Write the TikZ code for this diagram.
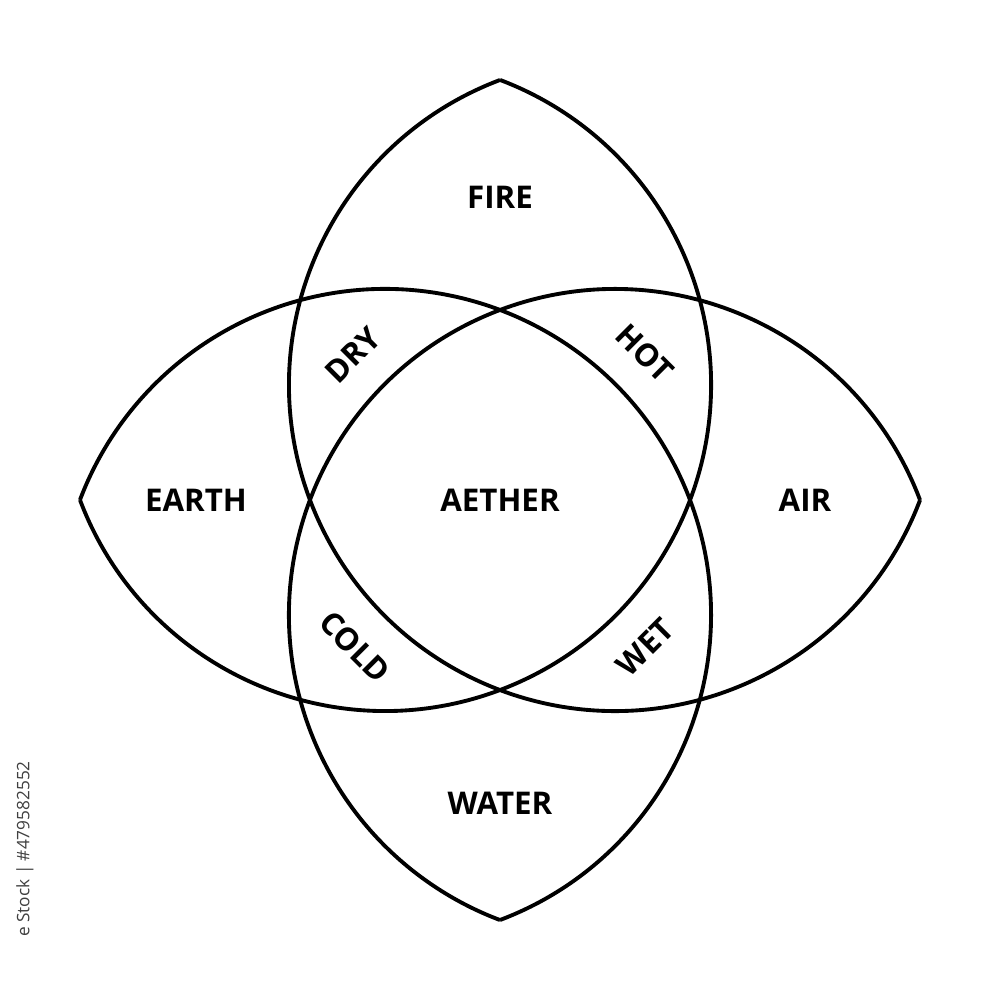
\documentclass[tikz,border=0pt]{standalone}
\usepackage{fontspec}
\setmainfont{Open Sans}
\begin{document}
\begin{tikzpicture}
\tikzset{
  ring/.style={draw=black, line width=1.1pt},
  lbl/.style={font=\fontsize{8.9}{10}\selectfont\bfseries, text=black, inner sep=0pt},
  wm/.style={font=\fontsize{4.9}{6}\selectfont, text=black!75, inner sep=0pt, rotate=90}
}
\useasboundingbox[fill=white] (-5,-5) rectangle (5,5);
\def\R{3.26cm}
% top-left circle
\draw[ring] (-4.2,0) arc[start angle=200.66, end angle=429.34, radius=\R];
% top-right circle
\draw[ring] (0,4.2) arc[start angle=110.66, end angle=339.34, radius=\R];
% bottom-left circle
\draw[ring] (0,-4.2) arc[start angle=-69.34, end angle=159.34, radius=\R];
% bottom-right circle
\draw[ring] (4.2,0) arc[start angle=20.66, end angle=249.34, radius=\R];
\node[lbl] (fire) at (0,3.03) {FIRE};
\node[lbl] (earth) at (-3.04,0) {EARTH};
\node[lbl] (aether) at (0,0) {AETHER};
\node[lbl] (air) at (3.05,0) {AIR};
\node[lbl] (water) at (0,-3.03) {WATER};
\node[lbl, rotate=45] (dry) at (-1.47,1.45) {DRY};
\node[lbl, rotate=-45] (hot) at (1.45,1.47) {HOT};
\node[lbl, rotate=-45] (cold) at (-1.45,-1.47) {COLD};
\node[lbl, rotate=45] (wet) at (1.45,-1.47) {WET};
\node[wm] (stock) at (-4.75,-3.49) {e Stock | \#479582552};
\end{tikzpicture}
\end{document}
